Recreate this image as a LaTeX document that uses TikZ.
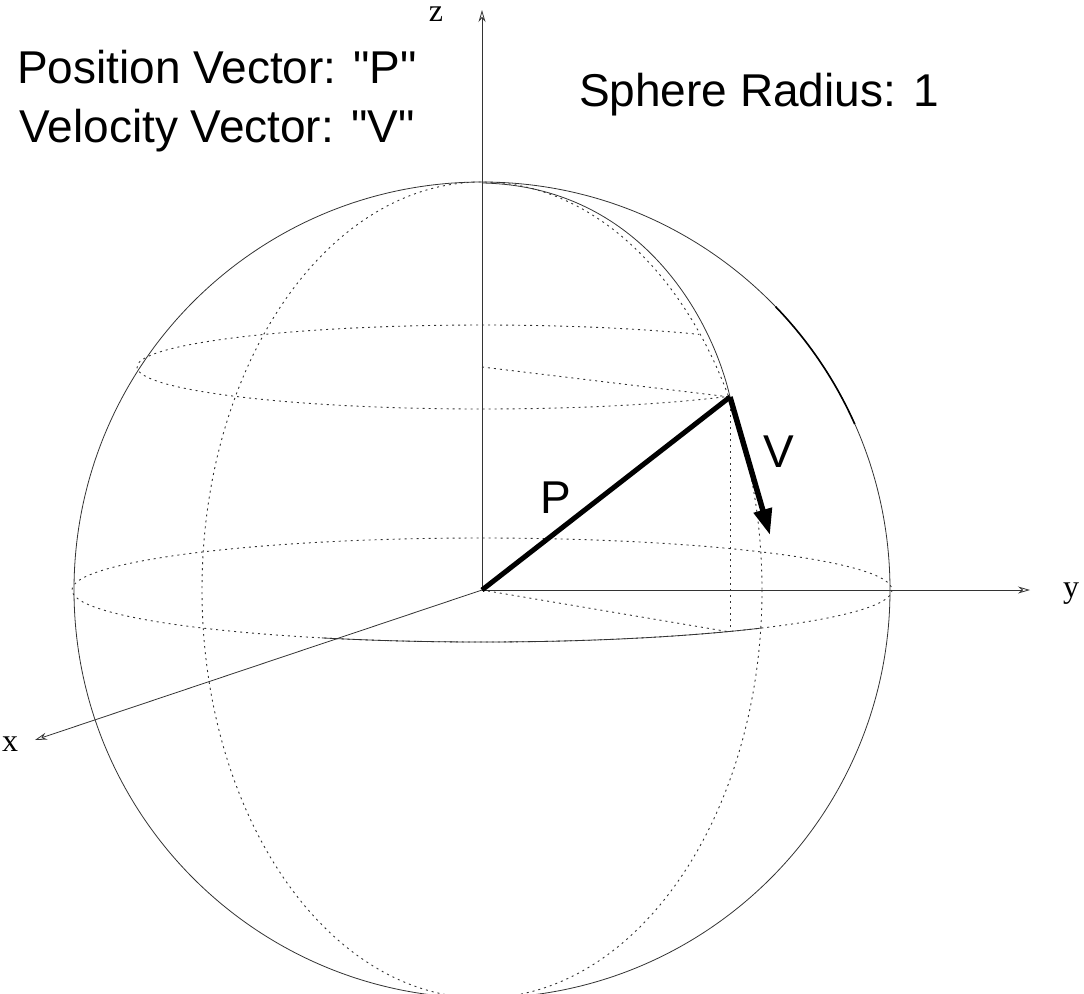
\documentclass[tikz,border=0pt]{standalone}
\usepackage{fontspec}
\setmainfont{Liberation Serif}
\setsansfont{Liberation Sans}
\usetikzlibrary{arrows.meta}
\begin{document}
\begin{tikzpicture}[x=1pt,y=-1pt,
  thin line/.style={line width=0.8pt,black!80},
  dots/.style={line width=0.9pt,black!80,dash pattern=on 2pt off 4pt},
  axis/.style={line width=0.8pt,black!80,-{Stealth[length=12pt,width=7pt,open]}},
  lab/.style={font=\sffamily\fontsize{46}{50}\selectfont,inner sep=0pt},
  axlab/.style={font=\fontsize{32}{34}\selectfont,inner sep=0pt}]
\useasboundingbox (0,0) rectangle (1084,993);
\clip (0,0) rectangle (1084,993);
\coordinate (O) at (482,590);
\coordinate (P) at (730,397);
\coordinate (Vend) at (770,535);
\coordinate (Pz) at (482,367);
\coordinate (Pf) at (730,632);
\coordinate (zt) at (482,10);
\coordinate (yt) at (1030,590);
\coordinate (xt) at (35,740);
\coordinate (N) at (482,183);
% sphere
\draw[thin line] (O) circle[radius=408];
\draw[line width=1.6pt] (O) ++(-24:408) arc[start angle=-24,end angle=-44,radius=408];
% meridian
\draw[dots] (O) ellipse[x radius=280,y radius=408];
% equator
\draw[dots] (O) ellipse[x radius=410,y radius=52];
\draw[thin line] (O) ++(113:410 and 52) arc[start angle=113,end angle=47,x radius=410,y radius=52];
% upper latitude
\draw[dots] (Pz) ++(44:345 and 42) arc[start angle=44,end angle=309,x radius=345,y radius=42];
% great circle through P
\draw[thin line] (N) .. controls (640,186) and (712,318) .. (P);
% construction lines
\draw[dots] (Pz) -- (P);
\draw[dots] (P) -- (Pf);
\draw[dots] (O) -- (Pf);
% axes
\draw[axis] (O) -- (zt);
\draw[axis] (O) -- (yt);
\draw[axis] (O) -- (xt);
\node[axlab] (zl) at (436,14) {z};
\node[axlab] (yl) at (1071,594) {y};
\node[axlab] (xl) at (10,744) {x};
% vectors
\draw[line width=5pt] (O) -- (P);
\draw[line width=5.5pt,-{Triangle[length=26pt,width=18pt]}] (P) -- (Vend);
\node[lab] (pl) at (556,498) {P};
\node[lab] (vl) at (779,452) {V};
% texts
\node[lab] (t1) at (217,67) {Position Vector: \textquotedbl P\textquotedbl};
\node[lab] (t2) at (217,131) {Velocity Vector: \textquotedbl V\textquotedbl};
\node[lab] (t3) at (759,95) {Sphere Radius: 1};
\end{tikzpicture}
\end{document}
